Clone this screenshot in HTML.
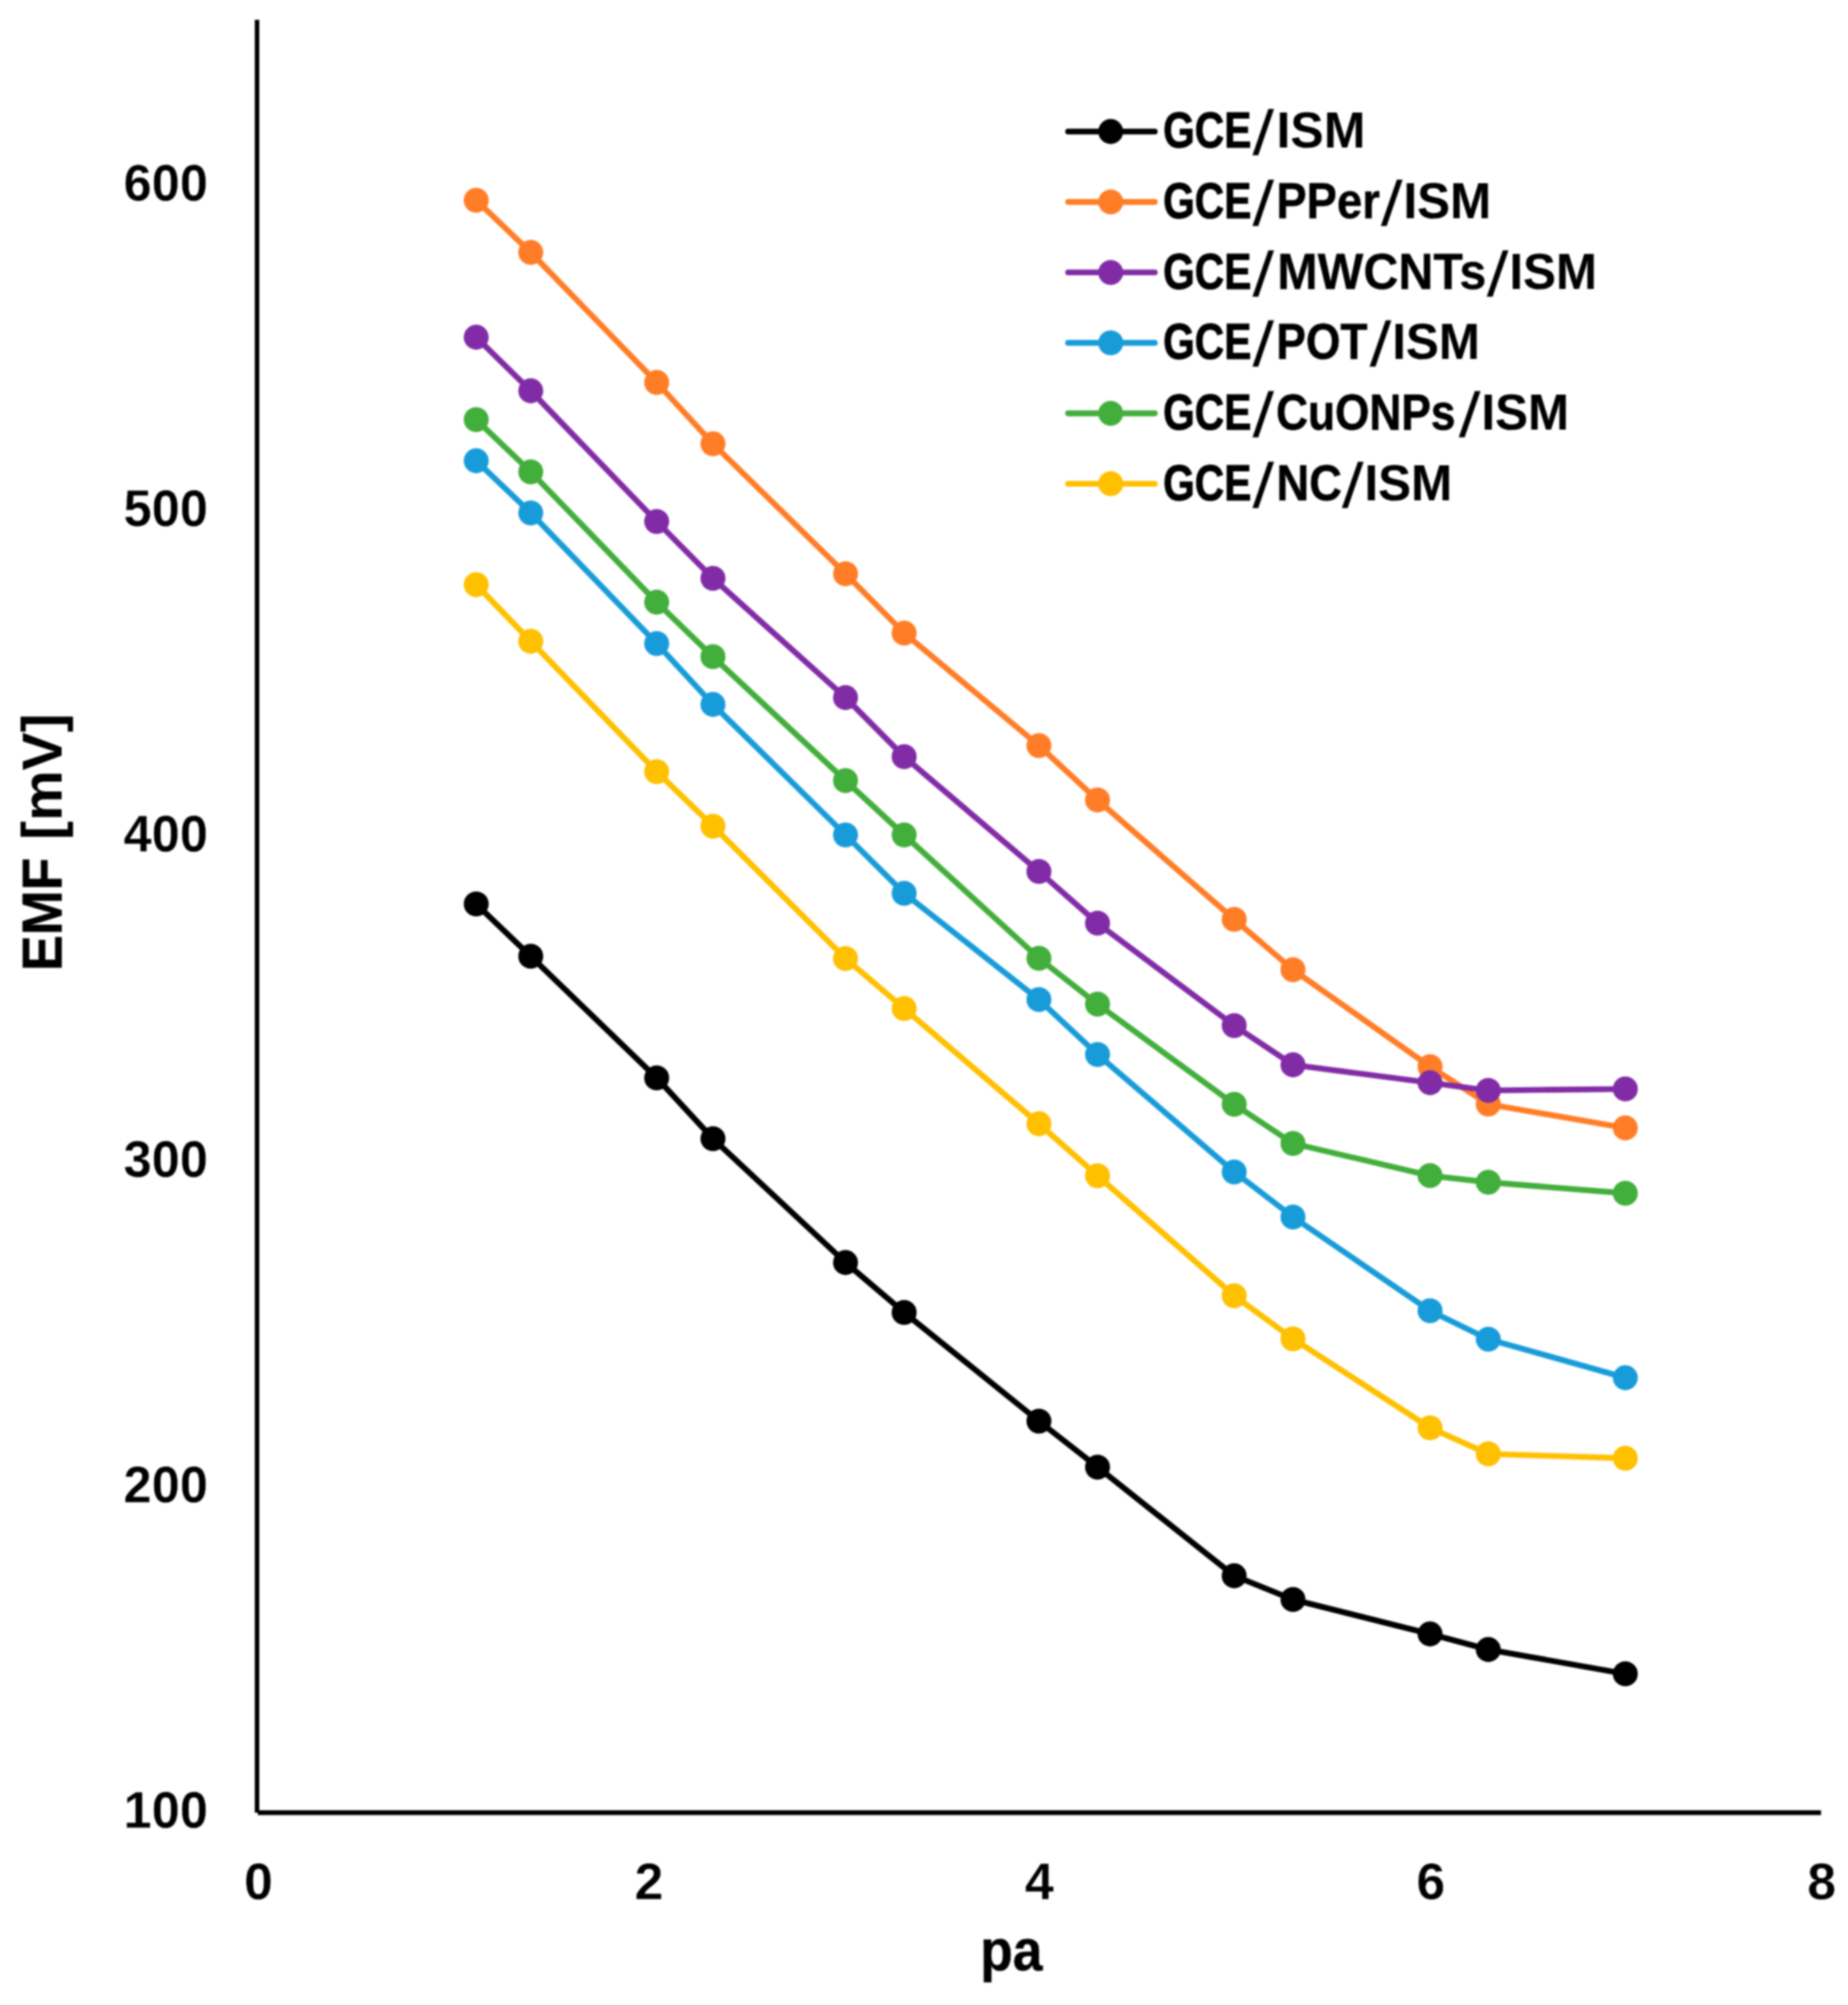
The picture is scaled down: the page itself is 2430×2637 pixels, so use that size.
<!DOCTYPE html>
<html lang="en"><head><meta charset="utf-8"><title>EMF vs pa</title>
<style>html,body{margin:0;padding:0;background:#fff}svg{display:block;filter:blur(1px)}text{font-family:"Liberation Sans", sans-serif;font-weight:bold;fill:#000}</style></head><body>
<svg width="2430" height="2637" viewBox="0 0 2430 2637">
<rect width="2430" height="2637" fill="#fff"/>
<g fill="#000"><rect x="335" y="26" width="6" height="2358"/><rect x="339" y="2380.9" width="2055.5" height="6.3"/></g>
<g font-size="68" text-anchor="end" stroke="#fff" stroke-width="0.4">
<text x="273.4" y="264.1" textLength="110.8" lengthAdjust="spacingAndGlyphs">600</text>
<text x="273.4" y="692.1" textLength="110.8" lengthAdjust="spacingAndGlyphs">500</text>
<text x="273.4" y="1120.1" textLength="110.8" lengthAdjust="spacingAndGlyphs">400</text>
<text x="273.4" y="1548.1" textLength="110.8" lengthAdjust="spacingAndGlyphs">300</text>
<text x="273.4" y="1976.1" textLength="110.8" lengthAdjust="spacingAndGlyphs">200</text>
<text x="273.4" y="2404.1" textLength="110.8" lengthAdjust="spacingAndGlyphs">100</text>
</g>
<g font-size="68" text-anchor="middle" stroke="#fff" stroke-width="0.4">
<text x="339.8" y="2498">0</text>
<text x="853.3" y="2498">2</text>
<text x="1366.6" y="2498">4</text>
<text x="1881.5" y="2498">6</text>
<text x="2395.5" y="2498">8</text>
</g>
<text aria-label="pa"  y="2591.3" font-size="76"><tspan x="1289.0" stroke="#000" stroke-width="0.55" textLength="81.8" lengthAdjust="spacingAndGlyphs">pa</tspan></text>
<text aria-label="EMF [mV]" transform="translate(80.8 1272.5) rotate(-90)" y="0.0" font-size="75"><tspan x="-4.7" stroke="#000" stroke-width="0.48" textLength="149.4" lengthAdjust="spacingAndGlyphs">EMF</tspan><tspan x="144.1"> </tspan><tspan x="167.8" textLength="166.5" lengthAdjust="spacingAndGlyphs">[mV]</tspan></text>
<g fill="#000000" stroke="none"><polyline points="626.2,1188.9 697.9,1257.7 863.5,1417.7 937.5,1497.6 1111.8,1660.5 1188.9,1726.2 1366.1,1869.1 1443.2,1929.6 1622.9,2072.5 1700.2,2103.7 1880.4,2149.0 1957.0,2169.5 2137.2,2201.4" fill="none" stroke="#000000" stroke-width="7.6" stroke-linejoin="round" stroke-linecap="round"/>
<circle cx="626.2" cy="1188.9" r="16.4"/><circle cx="697.9" cy="1257.7" r="16.4"/><circle cx="863.5" cy="1417.7" r="16.4"/><circle cx="937.5" cy="1497.6" r="16.4"/><circle cx="1111.8" cy="1660.5" r="16.4"/><circle cx="1188.9" cy="1726.2" r="16.4"/><circle cx="1366.1" cy="1869.1" r="16.4"/><circle cx="1443.2" cy="1929.6" r="16.4"/><circle cx="1622.9" cy="2072.5" r="16.4"/><circle cx="1700.2" cy="2103.7" r="16.4"/><circle cx="1880.4" cy="2149.0" r="16.4"/><circle cx="1957.0" cy="2169.5" r="16.4"/><circle cx="2137.2" cy="2201.4" r="16.4"/>
</g>
<g fill="#ff7d27" stroke="none"><polyline points="626.2,263.3 697.9,332.0 863.5,503.0 937.5,583.6 1111.8,754.6 1188.9,832.7 1366.1,980.6 1443.2,1052.2 1622.9,1209.2 1700.2,1275.3 1880.4,1402.8 1957.0,1452.2 2137.2,1483.4" fill="none" stroke="#ff7d27" stroke-width="7.6" stroke-linejoin="round" stroke-linecap="round"/>
<circle cx="626.2" cy="263.3" r="16.4"/><circle cx="697.9" cy="332.0" r="16.4"/><circle cx="863.5" cy="503.0" r="16.4"/><circle cx="937.5" cy="583.6" r="16.4"/><circle cx="1111.8" cy="754.6" r="16.4"/><circle cx="1188.9" cy="832.7" r="16.4"/><circle cx="1366.1" cy="980.6" r="16.4"/><circle cx="1443.2" cy="1052.2" r="16.4"/><circle cx="1622.9" cy="1209.2" r="16.4"/><circle cx="1700.2" cy="1275.3" r="16.4"/><circle cx="1880.4" cy="1402.8" r="16.4"/><circle cx="1957.0" cy="1452.2" r="16.4"/><circle cx="2137.2" cy="1483.4" r="16.4"/>
</g>
<g fill="#812ca6" stroke="none"><polyline points="626.2,443.5 697.9,514.0 863.5,685.8 937.5,760.6 1111.8,917.5 1188.9,995.2 1366.1,1146.2 1443.2,1214.2 1622.9,1348.8 1700.2,1400.5 1880.4,1424.0 1957.0,1434.2 2137.2,1432.2" fill="none" stroke="#812ca6" stroke-width="7.6" stroke-linejoin="round" stroke-linecap="round"/>
<circle cx="626.2" cy="443.5" r="16.4"/><circle cx="697.9" cy="514.0" r="16.4"/><circle cx="863.5" cy="685.8" r="16.4"/><circle cx="937.5" cy="760.6" r="16.4"/><circle cx="1111.8" cy="917.5" r="16.4"/><circle cx="1188.9" cy="995.2" r="16.4"/><circle cx="1366.1" cy="1146.2" r="16.4"/><circle cx="1443.2" cy="1214.2" r="16.4"/><circle cx="1622.9" cy="1348.8" r="16.4"/><circle cx="1700.2" cy="1400.5" r="16.4"/><circle cx="1880.4" cy="1424.0" r="16.4"/><circle cx="1957.0" cy="1434.2" r="16.4"/><circle cx="2137.2" cy="1432.2" r="16.4"/>
</g>
<g fill="#189cd9" stroke="none"><polyline points="626.2,606.0 697.9,674.6 863.5,846.3 937.5,926.5 1111.8,1098.1 1188.9,1174.8 1366.1,1314.7 1443.2,1386.8 1622.9,1541.3 1700.2,1600.6 1880.4,1723.9 1957.0,1761.3 2137.2,1812.0" fill="none" stroke="#189cd9" stroke-width="7.6" stroke-linejoin="round" stroke-linecap="round"/>
<circle cx="626.2" cy="606.0" r="16.4"/><circle cx="697.9" cy="674.6" r="16.4"/><circle cx="863.5" cy="846.3" r="16.4"/><circle cx="937.5" cy="926.5" r="16.4"/><circle cx="1111.8" cy="1098.1" r="16.4"/><circle cx="1188.9" cy="1174.8" r="16.4"/><circle cx="1366.1" cy="1314.7" r="16.4"/><circle cx="1443.2" cy="1386.8" r="16.4"/><circle cx="1622.9" cy="1541.3" r="16.4"/><circle cx="1700.2" cy="1600.6" r="16.4"/><circle cx="1880.4" cy="1723.9" r="16.4"/><circle cx="1957.0" cy="1761.3" r="16.4"/><circle cx="2137.2" cy="1812.0" r="16.4"/>
</g>
<g fill="#42ae3b" stroke="none"><polyline points="626.2,551.9 697.9,620.6 863.5,792.0 937.5,863.7 1111.8,1026.6 1188.9,1098.1 1366.1,1260.3 1443.2,1320.7 1622.9,1452.3 1700.2,1503.9 1880.4,1546.2 1957.0,1554.9 2137.2,1569.4" fill="none" stroke="#42ae3b" stroke-width="7.6" stroke-linejoin="round" stroke-linecap="round"/>
<circle cx="626.2" cy="551.9" r="16.4"/><circle cx="697.9" cy="620.6" r="16.4"/><circle cx="863.5" cy="792.0" r="16.4"/><circle cx="937.5" cy="863.7" r="16.4"/><circle cx="1111.8" cy="1026.6" r="16.4"/><circle cx="1188.9" cy="1098.1" r="16.4"/><circle cx="1366.1" cy="1260.3" r="16.4"/><circle cx="1443.2" cy="1320.7" r="16.4"/><circle cx="1622.9" cy="1452.3" r="16.4"/><circle cx="1700.2" cy="1503.9" r="16.4"/><circle cx="1880.4" cy="1546.2" r="16.4"/><circle cx="1957.0" cy="1554.9" r="16.4"/><circle cx="2137.2" cy="1569.4" r="16.4"/>
</g>
<g fill="#ffc000" stroke="none"><polyline points="626.2,769.0 697.9,843.4 863.5,1014.9 937.5,1086.6 1111.8,1260.6 1188.9,1326.3 1366.1,1478.0 1443.2,1546.3 1622.9,1704.1 1700.2,1760.8 1880.4,1877.8 1957.0,1912.2 2137.2,1917.9" fill="none" stroke="#ffc000" stroke-width="7.6" stroke-linejoin="round" stroke-linecap="round"/>
<circle cx="626.2" cy="769.0" r="16.4"/><circle cx="697.9" cy="843.4" r="16.4"/><circle cx="863.5" cy="1014.9" r="16.4"/><circle cx="937.5" cy="1086.6" r="16.4"/><circle cx="1111.8" cy="1260.6" r="16.4"/><circle cx="1188.9" cy="1326.3" r="16.4"/><circle cx="1366.1" cy="1478.0" r="16.4"/><circle cx="1443.2" cy="1546.3" r="16.4"/><circle cx="1622.9" cy="1704.1" r="16.4"/><circle cx="1700.2" cy="1760.8" r="16.4"/><circle cx="1880.4" cy="1877.8" r="16.4"/><circle cx="1957.0" cy="1912.2" r="16.4"/><circle cx="2137.2" cy="1917.9" r="16.4"/>
</g>
<g><line x1="1404.5" y1="173.0" x2="1518.5" y2="173.0" stroke="#000000" stroke-width="7.6" stroke-linecap="round"/><circle cx="1460.5" cy="173.0" r="16.4" fill="#000000"/>
<text aria-label="GCE/ISM"  y="194.4" font-size="66"><tspan x="1529.5" y="194.4" stroke="#000" stroke-width="1.16" textLength="115.9" lengthAdjust="spacingAndGlyphs">GCE</tspan><tspan x="1646.6" y="204.4" font-size="84" font-weight="normal" stroke="#fff" stroke-width="0.5" textLength="29.2" lengthAdjust="spacingAndGlyphs">/</tspan><tspan x="1678.6" y="194.4" textLength="116.8" lengthAdjust="spacingAndGlyphs">ISM</tspan></text></g>
<g><line x1="1404.5" y1="265.6" x2="1518.5" y2="265.6" stroke="#ff7d27" stroke-width="7.6" stroke-linecap="round"/><circle cx="1460.5" cy="265.6" r="16.4" fill="#ff7d27"/>
<text aria-label="GCE/PPer/ISM"  y="287.0" font-size="66"><tspan x="1529.5" y="287.0" stroke="#000" stroke-width="1.16" textLength="115.9" lengthAdjust="spacingAndGlyphs">GCE</tspan><tspan x="1646.6" y="297.0" font-size="84" font-weight="normal" stroke="#fff" stroke-width="0.5" textLength="29.2" lengthAdjust="spacingAndGlyphs">/</tspan><tspan x="1678.2" y="287.0" stroke="#000" stroke-width="0.60" textLength="136.4" lengthAdjust="spacingAndGlyphs">PPer</tspan><tspan x="1815.3" y="297.0" font-size="84" font-weight="normal" stroke="#fff" stroke-width="0.5" textLength="29.5" lengthAdjust="spacingAndGlyphs">/</tspan><tspan x="1845.5" y="287.0" stroke="#000" stroke-width="0.17" textLength="115.2" lengthAdjust="spacingAndGlyphs">ISM</tspan></text></g>
<g><line x1="1404.5" y1="358.3" x2="1518.5" y2="358.3" stroke="#812ca6" stroke-width="7.6" stroke-linecap="round"/><circle cx="1460.5" cy="358.3" r="16.4" fill="#812ca6"/>
<text aria-label="GCE/MWCNTs/ISM"  y="379.7" font-size="66"><tspan x="1529.5" y="379.7" stroke="#000" stroke-width="1.16" textLength="115.9" lengthAdjust="spacingAndGlyphs">GCE</tspan><tspan x="1646.6" y="389.7" font-size="84" font-weight="normal" stroke="#fff" stroke-width="0.5" textLength="29.2" lengthAdjust="spacingAndGlyphs">/</tspan><tspan x="1679.4" y="379.7" stroke="#000" stroke-width="0.35" textLength="275.0" lengthAdjust="spacingAndGlyphs">MWCNTs</tspan><tspan x="1954.5" y="389.7" font-size="84" font-weight="normal" stroke="#fff" stroke-width="0.5" textLength="29.5" lengthAdjust="spacingAndGlyphs">/</tspan><tspan x="1984.7" y="379.7" stroke="#000" stroke-width="0.17" textLength="115.2" lengthAdjust="spacingAndGlyphs">ISM</tspan></text></g>
<g><line x1="1404.5" y1="450.9" x2="1518.5" y2="450.9" stroke="#189cd9" stroke-width="7.6" stroke-linecap="round"/><circle cx="1460.5" cy="450.9" r="16.4" fill="#189cd9"/>
<text aria-label="GCE/POT/ISM"  y="472.3" font-size="66"><tspan x="1529.5" y="472.3" stroke="#000" stroke-width="1.16" textLength="115.9" lengthAdjust="spacingAndGlyphs">GCE</tspan><tspan x="1646.6" y="482.3" font-size="84" font-weight="normal" stroke="#fff" stroke-width="0.5" textLength="29.2" lengthAdjust="spacingAndGlyphs">/</tspan><tspan x="1678.3" y="472.3" stroke="#000" stroke-width="0.74" textLength="119.8" lengthAdjust="spacingAndGlyphs">POT</tspan><tspan x="1800.5" y="482.3" font-size="84" font-weight="normal" stroke="#fff" stroke-width="0.5" textLength="29.5" lengthAdjust="spacingAndGlyphs">/</tspan><tspan x="1830.7" y="472.3" stroke="#000" stroke-width="0.17" textLength="115.2" lengthAdjust="spacingAndGlyphs">ISM</tspan></text></g>
<g><line x1="1404.5" y1="543.6" x2="1518.5" y2="543.6" stroke="#42ae3b" stroke-width="7.6" stroke-linecap="round"/><circle cx="1460.5" cy="543.6" r="16.4" fill="#42ae3b"/>
<text aria-label="GCE/CuONPs/ISM"  y="565.0" font-size="66"><tspan x="1529.5" y="565.0" stroke="#000" stroke-width="1.16" textLength="115.9" lengthAdjust="spacingAndGlyphs">GCE</tspan><tspan x="1646.6" y="575.0" font-size="84" font-weight="normal" stroke="#fff" stroke-width="0.5" textLength="29.2" lengthAdjust="spacingAndGlyphs">/</tspan><tspan x="1678.1" y="565.0" stroke="#000" stroke-width="0.75" textLength="235.8" lengthAdjust="spacingAndGlyphs">CuONPs</tspan><tspan x="1917.8" y="575.0" font-size="84" font-weight="normal" stroke="#fff" stroke-width="0.5" textLength="29.5" lengthAdjust="spacingAndGlyphs">/</tspan><tspan x="1948.0" y="565.0" stroke="#000" stroke-width="0.17" textLength="115.2" lengthAdjust="spacingAndGlyphs">ISM</tspan></text></g>
<g><line x1="1404.5" y1="636.2" x2="1518.5" y2="636.2" stroke="#ffc000" stroke-width="7.6" stroke-linecap="round"/><circle cx="1460.5" cy="636.2" r="16.4" fill="#ffc000"/>
<text aria-label="GCE/NC/ISM"  y="657.6" font-size="66"><tspan x="1529.5" y="657.6" stroke="#000" stroke-width="1.16" textLength="115.9" lengthAdjust="spacingAndGlyphs">GCE</tspan><tspan x="1646.6" y="667.6" font-size="84" font-weight="normal" stroke="#fff" stroke-width="0.5" textLength="29.2" lengthAdjust="spacingAndGlyphs">/</tspan><tspan x="1678.5" y="657.6" stroke="#000" stroke-width="0.63" textLength="85.9" lengthAdjust="spacingAndGlyphs">NC</tspan><tspan x="1764.0" y="667.6" font-size="84" font-weight="normal" stroke="#fff" stroke-width="0.5" textLength="29.5" lengthAdjust="spacingAndGlyphs">/</tspan><tspan x="1794.2" y="657.6" stroke="#000" stroke-width="0.17" textLength="115.2" lengthAdjust="spacingAndGlyphs">ISM</tspan></text></g>
</svg></body></html>
